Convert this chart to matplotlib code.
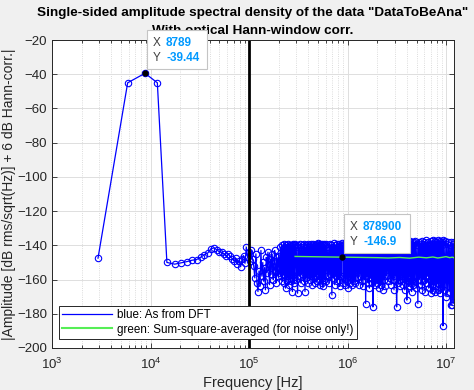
import numpy as np
import matplotlib
matplotlib.use("Agg")
import matplotlib.pyplot as plt
from matplotlib.patches import Rectangle
from matplotlib.lines import Line2D
from matplotlib.transforms import IdentityTransform

plt.rcParams['font.family'] = ['Liberation Sans', 'DejaVu Sans']
plt.rcParams['path.simplify'] = False     # keep every zigzag of the noise floor

DF = 24e6 / 8192          # bin spacing [Hz]

low_bins = np.arange(1, 71)
low_db = [-147.5, -45, -39.44, -45, -150, -151, -150.2, -149.5, -148.7, -148.3,
          -147, -145.5, -144.5, -142, -141.5, -142.5, -143.8, -144, -145, -146,
          -145.2, -146.5, -147.8, -149.2, -147.5, -151, -149, -152.5, -148, -146,
          -150.5, -141, -147, -144, -149, -143, -148, -152, -159, -145,
          -162, -167, -155, -164, -143, -158, -150, -161, -153, -166,
          -147, -156, -144, -151, -163, -148, -157, -145, -152, -160,
          -149, -143, -155, -162, -147, -153, -158, -146, -150, -156]

# dense noise floor, sampled bins (one run per octave)
nb_a = np.arange(71, 100)
nd_a = [-141, -158, -140, -161, -142, -157, -139, -162, -141, -165,
        -140, -160, -142, -158, -139, -163, -141, -159, -140, -161,
        -143, -157, -140, -167, -139, -160, -141, -162, -140]
nb_b = np.arange(100, 200, 2)
nd_b = [-139, -160, -141, -168, -140, -158, -139, -162, -141, -157,
        -140, -161, -139, -167, -141, -159, -140, -162, -139, -157,
        -141, -160, -139, -158, -140, -163, -139, -159, -141, -162,
        -140, -158, -139, -161, -141, -157, -138.5, -160, -140, -163,
        -139, -158, -140, -162, -139, -164, -140, -159, -139, -160]
nb_c = np.arange(200, 400, 4)
nd_c = [-140, -161, -139, -158, -141, -162, -139, -157, -140, -169,
        -141, -159, -138.5, -163, -140, -158, -139, -161, -141, -160,
        -139, -164, -140, -158, -138.5, -146.9, -140, -162, -139, -159,
        -141, -163, -138.5, -158, -140, -161, -139, -165, -141, -158,
        -139, -162, -140, -159, -138.5, -163, -141, -157, -139, -161]
nb_d = np.arange(400, 800, 8)
nd_d = [-140, -162, -139, -159, -141, -163, -138.5, -158, -140, -161,
        -139, -164, -141, -160, -138, -174, -140, -158, -139, -162,
        -141, -165, -138, -159, -140, -162, -139, -176, -141, -158,
        -139, -163, -138, -160, -140, -162, -139, -159, -141, -165,
        -138, -158, -140, -163, -139, -157, -141, -166, -138, -160]
nb_e = np.arange(800, 1600, 16)
nd_e = [-140, -164, -139, -158, -138, -161, -140, -159, -139, -163,
        -141, -160, -138, -166, -140, -158, -139, -176, -141, -162,
        -138, -160, -139, -164, -140, -158, -138, -163, -141, -159,
        -139, -166, -138, -160, -140, -172, -139, -161, -138, -164,
        -140, -158, -137.5, -162, -139, -167, -138, -160, -140, -163]
nb_f = np.arange(1600, 3200, 32)
nd_f = [-138, -161, -137.5, -165, -140, -174, -138, -160, -139, -163,
        -137.5, -166, -139, -160, -138, -167, -137, -162, -140, -158,
        -138, -165, -140, -160, -137.5, -168, -139, -163, -137, -166,
        -139, -161, -137.5, -167, -138, -164, -140, -162, -137, -166,
        -139, -160, -137.5, -168, -138, -165, -140, -161, -137, -187]
nb_g = np.arange(3200, 4097, 64)
nd_g = [-138, -166, -137.5, -170, -139, -168, -138, -167, -140, -175,
        -138, -175, -139, -173, -138]

# sum-square averaged noise level
green_bins = [100, 130, 170, 220, 300, 400, 520, 680, 880, 1150,
              1450, 1800, 2150, 2500, 2800, 3100, 3400, 3700, 3950, 4096]
green_db = [-146.5, -146.6, -146.7, -146.8, -146.9, -147.0, -147.1, -147.2, -147.4, -147.1,
            -147.5, -146.9, -147.3, -146.8, -147.4, -147.0, -146.6, -147.2, -146.9, -147.3]

f_mark = 1e5
tip_bins = [3, 300]
tip_db = [-39.44, -146.9]
tip_xtext = ["8789", "878900"]
tip_ytext = ["-39.44", "-146.9"]
tip_w = [60, 66]

bins = np.concatenate([low_bins, nb_a, nb_b, nb_c, nb_d, nb_e, nb_f, nb_g])
amp = np.concatenate([low_db, nd_a, nd_b, nd_c, nd_d, nd_e, nd_f, nd_g])
freq = bins * DF

fig = plt.figure(figsize=(4.74, 3.9), dpi=100, facecolor='#f0f0f0')
ax = fig.add_axes([0.1097, 0.1077, 0.8481, 0.7897])
ax.plot(freq, amp, 'o-', color='b', lw=0.9, ms=4.6, mfc='none', mew=0.8)
ax.plot(np.array(green_bins) * DF, green_db, '-', color='#55ee55', lw=1)
ax.axvline(f_mark, color='k', lw=2)

ax.set_xscale('log')
ax.set_xlim(1e3, 1.2e7)
ax.set_ylim(-200, -20)
ax.set_yticks(np.arange(-200, -19, 20))
ax.grid(True, which='major', color='#dedede', lw=0.7)
ax.grid(True, which='minor', axis='x', color='#d0d0d0', lw=0.6, ls=':')
ax.set_axisbelow(True)
for s in ax.spines.values():
    s.set_color('#262626')
    s.set_linewidth(0.7)
ax.tick_params(which='both', direction='in', top=True, right=True, colors='#262626',
               labelsize=9.5, width=0.6)
ax.tick_params(axis='x', pad=6)
ax.tick_params(which='major', length=3.5)
ax.tick_params(which='minor', length=2)
ax.set_xlabel('Frequency [Hz]', fontsize=10.5, color='#262626', labelpad=3)
ax.set_ylabel('|Amplitude [dB rms/sqrt(Hz)] + 6 dB Hann-corr.|', fontsize=10,
              color='#262626', labelpad=1)
ax.set_title('Single-sided amplitude spectral density of the data "DataToBeAna"\n'
             'With optical Hann-window corr.', fontsize=9.7, fontweight='bold',
             linespacing=1.75, pad=4)

handles = [Line2D([], [], color='b', lw=0.9), Line2D([], [], color='#55ee55', lw=1.5)]
leg = ax.legend(handles, ['blue: As from DFT', 'green: Sum-square-averaged (for noise only!)'],
                loc='lower left', bbox_to_anchor=(0.017, 0.029), borderaxespad=0,
                fontsize=8.4, fancybox=False, framealpha=1, edgecolor='#262626',
                handlelength=4.3, handletextpad=0.4, borderpad=0.3, labelspacing=0.2)
leg.get_frame().set_linewidth(0.7)

# data tips
for k, y, xs, ys, w in zip(tip_bins, tip_db, tip_xtext, tip_ytext, tip_w):
    x = k * DF
    ax.plot(x, y, 'o', color='k', ms=3.5, zorder=6)
    px, py = ax.transData.transform((x, y))
    fig.add_artist(Rectangle((px + 2, py + 4), w, 39, transform=IdentityTransform(),
                             fc='white', ec='#c4c4c4', lw=0.8, zorder=10))
    for dy, lab, val in [(30, 'X', xs), (15, 'Y', ys)]:
        fig.text(px + 8, py + dy, lab, transform=IdentityTransform(), fontsize=8.5,
                 color='#404040', va='center', zorder=11)
        fig.text(px + 21, py + dy, val, transform=IdentityTransform(), fontsize=8.5,
                 color='#0099ff', fontweight='bold', va='center', zorder=11)

fig.savefig('out.png', dpi=100, facecolor=fig.get_facecolor())
